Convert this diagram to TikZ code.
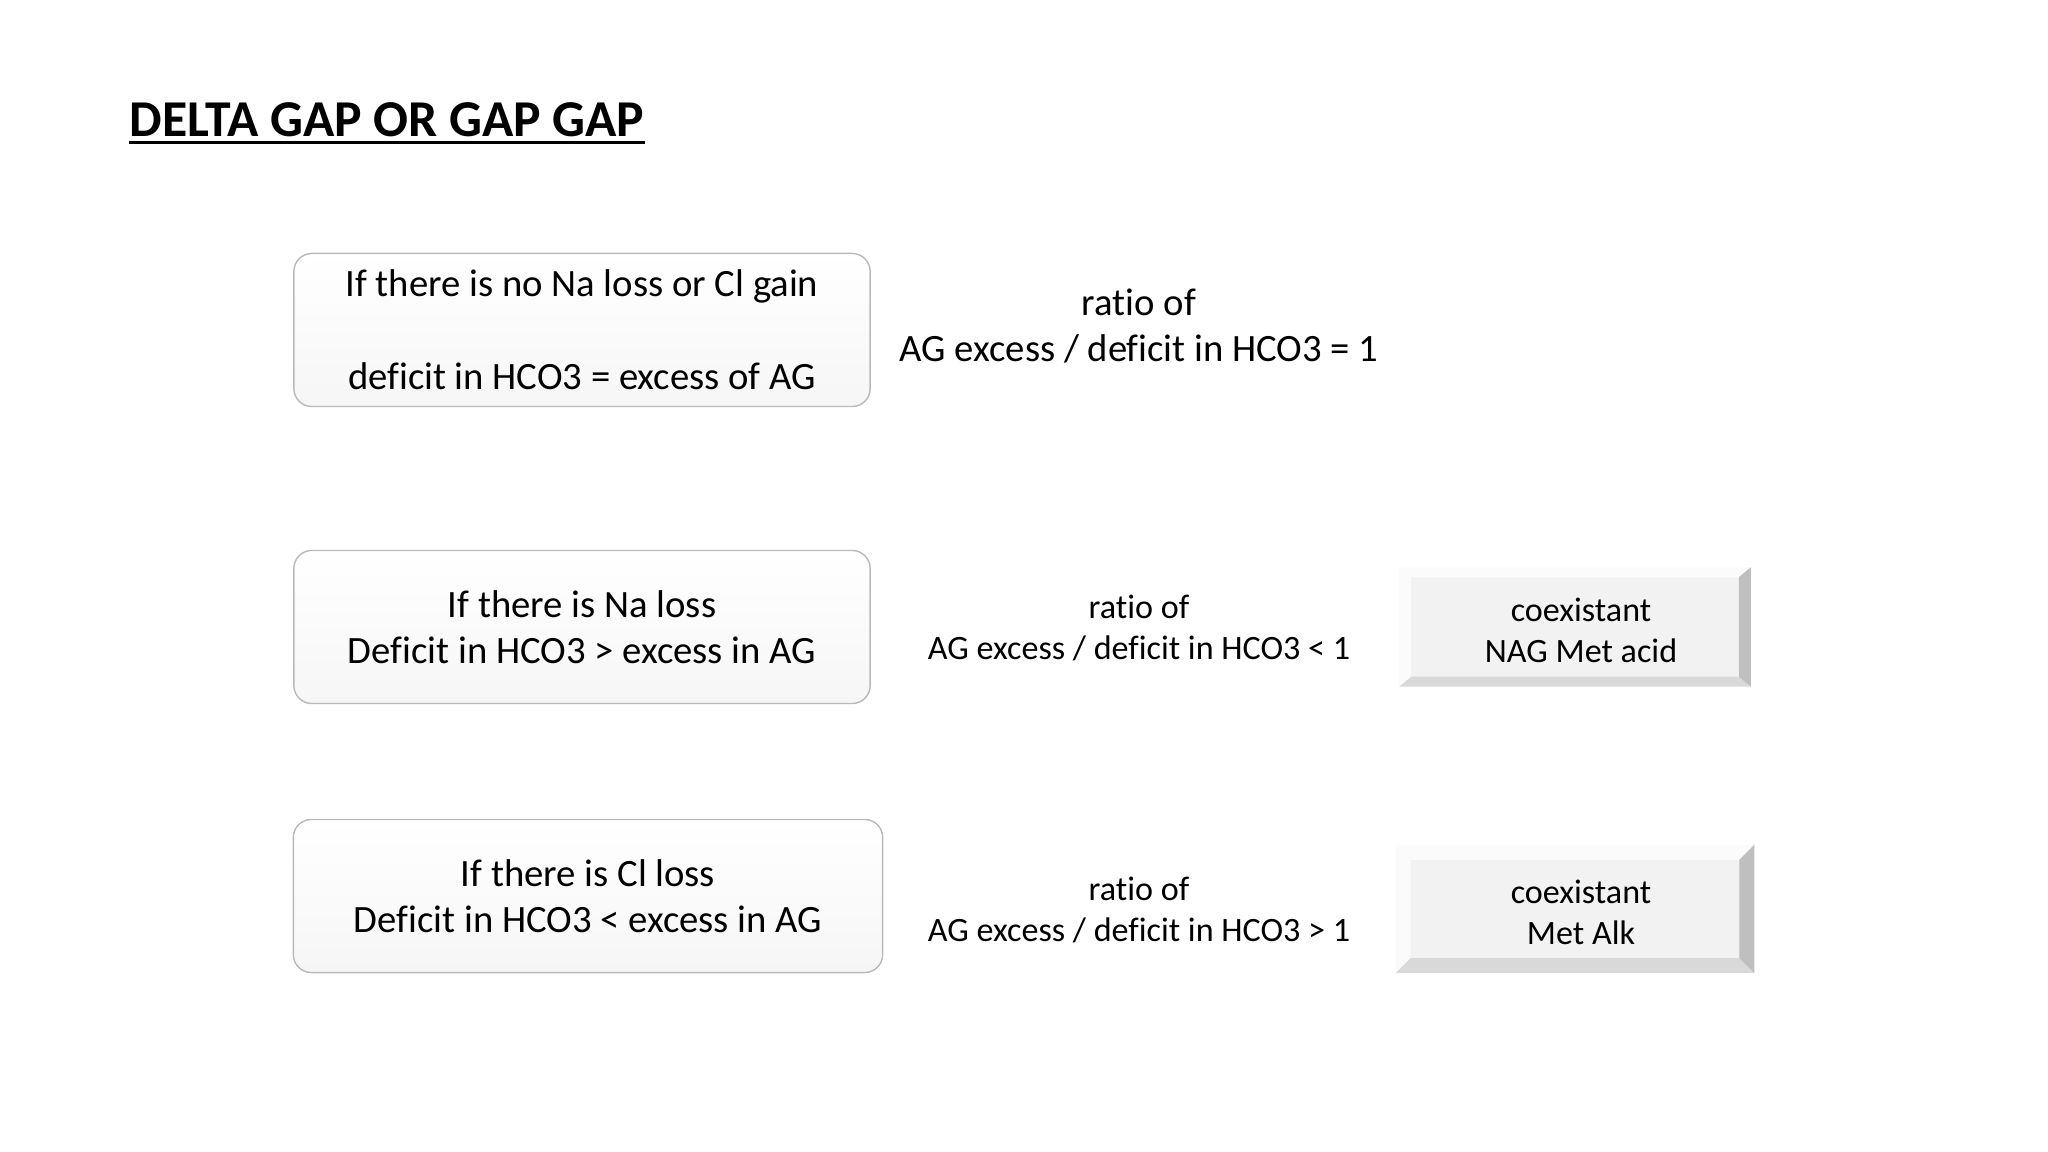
\documentclass[tikz,border=0pt]{standalone}
\usepackage{fontspec}
\setmainfont{Carlito}[Ligatures=NoCommon]
\usetikzlibrary{calc}

\tikzset{
  casebox/.style={draw=gray!55, rounded corners=0.18cm, top color=white, bottom color=gray!7,
    minimum width=5.76cm, minimum height=1.53cm, align=center, font=\fontsize{11}{13.2}\selectfont},
  ratiotext/.style={align=center},
  bevelbox/.style={fill=gray!10, inner sep=0pt},
  beveltext/.style={align=center, font=\fontsize{9.7}{11.6}\selectfont}
}

\begin{document}
\begin{tikzpicture}[x=0.01cm,y=-0.01cm]
            \useasboundingbox[fill=white] (0,0) rectangle (2048,1152);
            % title
            \node[anchor=base west, inner sep=0pt, font=\fontsize{14.7}{17.6}\selectfont\bfseries] (title) at (129,137) {DELTA GAP OR GAP GAP};
            \draw[line width=0.035cm] ($(title.base west)+(0,-0.055cm)$) -- ($(title.base east)+(0,-0.055cm)$);
            % left boxes
            \node[casebox] (nochange) at (582,330) {If there is no Na loss or Cl gain\\[13.2pt]deficit in HCO3 = excess of AG};
            \node[casebox] (naloss) at (582,627) {If there is Na loss\\Deficit in HCO3 > excess in AG};
            \node[casebox, minimum width=5.89cm] (clloss) at (588,896) {If there is Cl loss\\Deficit in HCO3 < excess in AG};
            % ratios
            \node[ratiotext, font=\fontsize{11}{13.2}\selectfont] (ratioeq) at (1139,326) {ratio of\\AG excess / deficit in HCO3 = 1};
            \node[ratiotext, font=\fontsize{9.7}{11.6}\selectfont] (ratiolt) at (1139,628) {ratio of\\AG excess / deficit in HCO3 < 1};
            \node[ratiotext, font=\fontsize{9.7}{11.6}\selectfont] (ratiogt) at (1139,910) {ratio of\\AG excess / deficit in HCO3 > 1};
            % bevelled boxes
            \node[bevelbox, minimum width=3.5cm, minimum height=1.18cm] (nagacid) at (1575,627) {};
            \fill[gray!3] (nagacid.north west) -- (nagacid.north east) -- ($(nagacid.north east)+(-0.12cm,-0.1cm)$) -- ($(nagacid.north west)+(0.12cm,-0.1cm)$) -- cycle;
            \fill[gray!3] (nagacid.north west) -- (nagacid.south west) -- ($(nagacid.south west)+(0.12cm,0.1cm)$) -- ($(nagacid.north west)+(0.12cm,-0.1cm)$) -- cycle;
            \fill[gray!30] (nagacid.south west) -- (nagacid.south east) -- ($(nagacid.south east)+(-0.12cm,0.1cm)$) -- ($(nagacid.south west)+(0.12cm,0.1cm)$) -- cycle;
            \fill[gray!50] (nagacid.north east) -- (nagacid.south east) -- ($(nagacid.south east)+(-0.12cm,0.1cm)$) -- ($(nagacid.north east)+(-0.12cm,-0.1cm)$) -- cycle;
            \node[beveltext] (nagtext) at (1581,630) {coexistant\\NAG Met acid};
            \node[bevelbox, minimum width=3.57cm, minimum height=1.27cm] (metalk) at (1575,909) {};
            \fill[gray!3] (metalk.north west) -- (metalk.north east) -- ($(metalk.north east)+(-0.15cm,-0.15cm)$) -- ($(metalk.north west)+(0.15cm,-0.15cm)$) -- cycle;
            \fill[gray!3] (metalk.north west) -- (metalk.south west) -- ($(metalk.south west)+(0.15cm,0.15cm)$) -- ($(metalk.north west)+(0.15cm,-0.15cm)$) -- cycle;
            \fill[gray!30] (metalk.south west) -- (metalk.south east) -- ($(metalk.south east)+(-0.15cm,0.15cm)$) -- ($(metalk.south west)+(0.15cm,0.15cm)$) -- cycle;
            \fill[gray!50] (metalk.north east) -- (metalk.south east) -- ($(metalk.south east)+(-0.15cm,0.15cm)$) -- ($(metalk.north east)+(-0.15cm,-0.15cm)$) -- cycle;
            \node[beveltext] (alktext) at (1581,912) {coexistant\\Met Alk};
\end{tikzpicture}
\end{document}
